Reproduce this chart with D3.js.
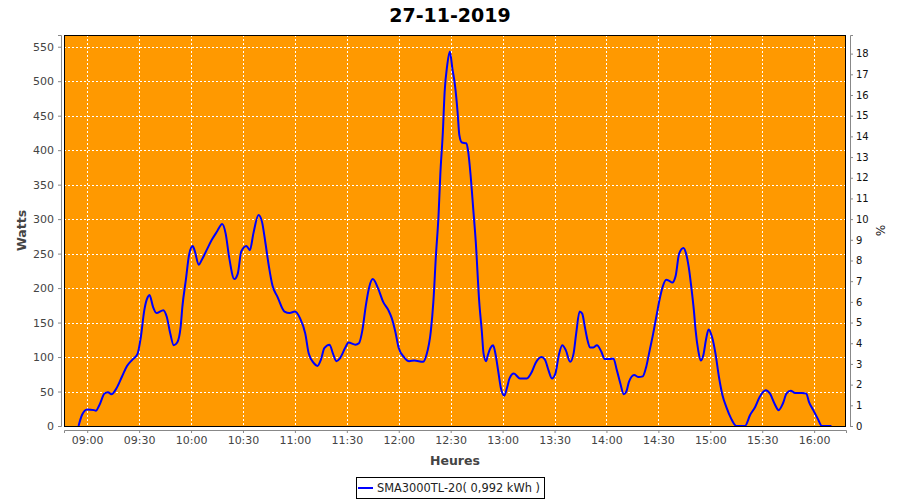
<!DOCTYPE html>
<html>
<head>
<meta charset="utf-8">
<script src="https://cdn.jsdelivr.net/npm/d3@7"></script>
<style>
  html, body { margin: 0; padding: 0; background: #fff; }
  svg { display: block; font-family: "DejaVu Sans", sans-serif; }
</style>
</head>
<body>
<svg id="chart" width="900" height="500"></svg>
<script>
const title = "27-11-2019";
const seriesName = "SMA3000TL-20( 0,992 kWh )";
const yLabel = "Watts";
const xLabel = "Heures";
const y2Label = "%";

const times = [
  "08:55","08:57","09:00","09:04","09:05","09:07","09:10","09:12","09:14","09:17",
  "09:20","09:23","09:26","09:29","09:31","09:33","09:35","09:36","09:38","09:40",
  "09:44","09:46","09:48","09:50","09:52","09:54","09:55","09:57","09:59","10:01",
  "10:02","10:04:30","10:06","10:09","10:12","10:15","10:18","10:20","10:22","10:25",
  "10:27","10:29","10:32","10:34","10:36","10:39","10:41","10:43","10:45","10:47",
  "10:50","10:54","10:57","11:00","11:03","11:06","11:08","11:11","11:13","11:15",
  "11:17","11:20","11:22","11:24","11:26","11:29","11:31","11:35","11:37","11:39",
  "11:41","11:43","11:45","11:48","11:51","11:54","11:56","11:58","12:00","12:03",
  "12:06","12:09","12:14","12:16","12:18:30","12:20","12:21:30","12:23","12:24","12:25:30",
  "12:26:30","12:28","12:29:30","12:31","12:32:30","12:34","12:35","12:36:30","12:39","12:40",
  "12:41:30","12:43","12:44:30","12:46:30","12:48","12:49","12:50:30","12:51:30","12:53","12:54:30",
  "12:56","12:57:30","12:59","13:01","13:02:30","13:04","13:06:30","13:10","13:14","13:17",
  "13:19","13:22:30","13:24:30","13:26:30","13:28:30","13:30:30","13:32:30","13:34:30","13:36:30","13:39",
  "13:41","13:42:30","13:44:30","13:46","13:47:30","13:49","13:50:30","13:52:30","13:54:30","13:57",
  "13:59","14:02","14:04","14:06","14:08","14:10","14:11:30","14:13","14:16","14:18:30",
  "14:21","14:23","14:25","14:27","14:29","14:31","14:32:30","14:34:30","14:36:30","14:38",
  "14:40","14:42","14:44:30","14:46","14:47:30","14:49","14:50:30","14:51:30","14:53","14:54:30",
  "14:56","14:57:30","14:59","15:01","15:03","15:05","15:07","15:09:30","15:12","15:15",
  "15:20","15:23","15:26","15:28:30","15:32","15:34:30","15:37","15:39:30","15:42","15:44",
  "15:46:30","15:49","15:53","15:55:30","15:57","15:59:30","16:02","16:04:30","16:10"
];
const watts = [
  0,16,24,23,22,30,47,49,46,55,
  71,87,96,104,129,168,187,190,173,164,
  168,158,134,117,121,144,173,212,250,261,
  255,234,240,255,270,282,293,279,245,213,
  221,253,261,255,279,306,296,265,231,204,
  187,166,164,166,156,134,105,91,87,96,
  113,118,105,94,98,113,121,118,120,139,
  175,202,213,200,180,168,156,137,113,100,
  94,95,93,103,137,180,248,306,364,427,
  484,523,543,518,494,455,422,411,410,400,
  364,316,267,180,137,105,94,103,113,117,
  103,79,55,44,55,69,76,69,69,79,
  91,100,96,81,69,76,103,117,110,93,
  105,134,166,163,144,125,114,114,117,108,
  97,97,98,81,62,46,50,64,74,71,
  72,86,110,134,161,187,202,212,210,208,
  218,250,258,250,231,202,168,139,110,95,
  103,125,140,129,105,71,45,26,11,0,
  0,16,28,42,52,47,33,23,33,47,
  51,48,48,47,35,23,11,0,0
];
const xTickLabels = ["09:00","09:30","10:00","10:30","11:00","11:30","12:00","12:30","13:00","13:30","14:00","14:30","15:00","15:30","16:00"];
const yTicks = [0,50,100,150,200,250,300,350,400,450,500,550];
const y2Ticks = [0,1,2,3,4,5,6,7,8,9,10,11,12,13,14,15,16,17,18];

const parse = d3.timeParse("%H:%M:%S");
const toDate = s => parse(s.length === 5 ? s + ":00" : s);
const data = times.map((t, i) => ({ t: toDate(t), v: watts[i] }));

const svg = d3.select("#chart");
const L = 64, R = 846, T = 35, B = 426;
const pad = 8.4 * 60000;
const ext = d3.extent(data, d => d.t);
const x = d3.scaleTime().domain([new Date(+ext[0] - pad), new Date(+ext[1] + pad)]).range([L, R]);
const yMax = 567;
const y = d3.scaleLinear().domain([0, yMax]).range([B, T]);
const y2 = d3.scaleLinear().domain([0, yMax / 30]).range([B, T]);

// plot background
svg.append("rect").attr("x", L).attr("y", T).attr("width", R - L).attr("height", B - T).attr("fill", "#ff9900");

const xTickDates = xTickLabels.map(toDate);

// grid
const grid = svg.append("g").attr("stroke", "#fff").attr("stroke-width", 1).attr("stroke-dasharray", "2,2");
grid.selectAll("line.h").data(yTicks).join("line")
  .attr("x1", L).attr("x2", R).attr("y1", d => Math.round(y(d)) + 0.5).attr("y2", d => Math.round(y(d)) + 0.5);
grid.selectAll("line.v").data(xTickDates).join("line")
  .attr("y1", T).attr("y2", B).attr("x1", d => Math.round(x(d)) + 0.5).attr("x2", d => Math.round(x(d)) + 0.5);

// line
const line = d3.line().x(d => x(d.t)).y(d => y(d.v)).curve(d3.curveMonotoneX);
svg.append("path").datum(data).attr("d", line).attr("fill", "none")
  .attr("stroke", "#0000ff").attr("stroke-width", 2).attr("stroke-linejoin", "round");

// plot border
svg.append("rect").attr("x", L + 0.5).attr("y", T + 0.5).attr("width", R - L - 1).attr("height", B - T)
  .attr("fill", "none").attr("stroke", "#000").attr("stroke-width", 1);

// left axis
const yAxis = d3.axisLeft(y).tickValues(yTicks).tickSize(3).tickPadding(4);
const gy = svg.append("g").attr("transform", `translate(${L - 3},0)`).call(yAxis);
gy.select(".domain").attr("stroke", "#888");
gy.selectAll(".tick line").attr("stroke", "#888");
gy.selectAll("text").attr("font-size", 11).attr("fill", "#444").attr("font-family", "DejaVu Sans");

// right axis
const y2Axis = d3.axisRight(y2).tickValues(y2Ticks).tickSize(3).tickPadding(3);
const gy2 = svg.append("g").attr("transform", `translate(${R + 4},0)`).call(y2Axis);
gy2.select(".domain").attr("stroke", "#888");
gy2.selectAll(".tick line").attr("stroke", "#888");
gy2.selectAll("text").attr("font-size", 10).attr("fill", "#111").attr("font-family", "DejaVu Sans");

// bottom axis
const xAxis = d3.axisBottom(x).tickValues(xTickDates).tickFormat(d3.timeFormat("%H:%M")).tickSize(3).tickPadding(3);
const gx = svg.append("g").attr("transform", `translate(0,${B + 4})`).call(xAxis);
gx.select(".domain").attr("stroke", "#888");
gx.selectAll(".tick line").attr("stroke", "#888");
gx.selectAll("text").attr("font-size", 11).attr("fill", "#444").attr("font-family", "DejaVu Sans");

// titles
svg.append("text").attr("x", 450).attr("y", 21.5).attr("text-anchor", "middle")
  .attr("font-size", 19).attr("font-weight", "bold").attr("fill", "#000").text(title);
svg.append("text").attr("transform", `translate(26,${(T + B) / 2}) rotate(-90)`).attr("text-anchor", "middle")
  .attr("font-size", 12.5).attr("font-weight", "bold").attr("fill", "#444").text(yLabel);
svg.append("text").attr("x", (L + R) / 2).attr("y", 465).attr("text-anchor", "middle")
  .attr("font-size", 12.5).attr("font-weight", "bold").attr("fill", "#444").text(xLabel);
svg.append("text").attr("transform", `translate(876,${(T + B) / 2}) rotate(90)`).attr("text-anchor", "middle")
  .attr("font-size", 12).attr("fill", "#222").text(y2Label);

// legend
const lg = svg.append("g");
lg.append("rect").attr("x", 356.5).attr("y", 477.5).attr("width", 188).attr("height", 21)
  .attr("fill", "#fff").attr("stroke", "#000");
lg.append("line").attr("x1", 358).attr("x2", 373).attr("y1", 488).attr("y2", 488)
  .attr("stroke", "#0000ff").attr("stroke-width", 2);
lg.append("text").attr("x", 377).attr("y", 492).attr("font-size", 11.4).attr("fill", "#222").text(seriesName);
</script>
</body>
</html>
